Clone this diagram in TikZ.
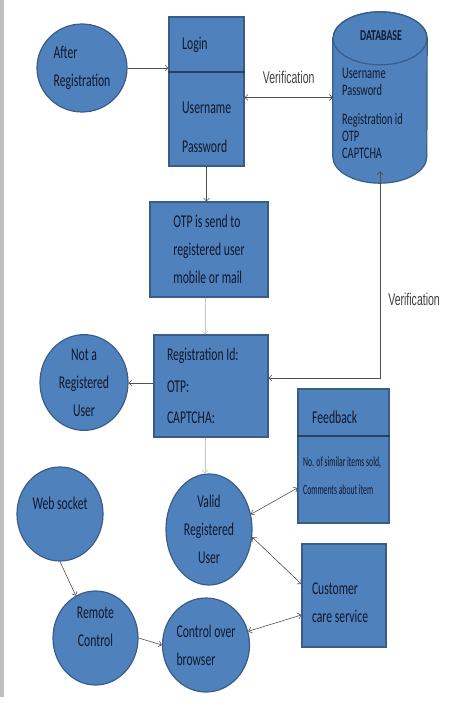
\documentclass[tikz,border=0pt]{standalone}
\usepackage{fontspec}
\setmainfont{Carlito}[FakeStretch=0.65]
\newfontfamily\narrowfnt{Carlito}[FakeStretch=0.55]
\newfontfamily\labelfnt{Liberation Sans}[FakeStretch=0.62]
\usetikzlibrary{arrows.meta, shapes.geometric}
\definecolor{boxblue}{RGB}{79,129,189}
\definecolor{edgeblue}{RGB}{56,93,138}
\definecolor{ink}{RGB}{18,24,44}
\definecolor{wire}{RGB}{80,80,80}
\definecolor{pale}{RGB}{200,200,200}

\begin{document}
\begin{tikzpicture}[x=1pt, y=-1pt, >={Straight Barb[length=3pt,width=6pt]},
		blob/.style={ellipse, draw=edgeblue, line width=1.2pt, fill=boxblue, text=ink, inner sep=0pt, align=center, font=\fontsize{18}{28}\selectfont},
		block/.style={rectangle, draw=edgeblue, line width=1.2pt, fill=boxblue, text=ink, font=\fontsize{18}{28}\selectfont},
		txt/.style={text=ink, inner sep=0pt, font=\fontsize{18}{22}\selectfont},
		vlabel/.style={text=black!75, inner sep=0pt, font=\labelfnt\fontsize{17}{20}\selectfont},
		wiring/.style={draw=wire, line width=0.6pt},
		faint/.style={draw=pale, line width=0.6pt}]
		\useasboundingbox (0,0) rectangle (468,703);
		\fill[black!25] (0,0) rectangle (3.5,697);

		% top row
		\node[blob, minimum width=90, minimum height=88, align=left] (after) at (82,68) {After\\Registration};
		\node[block, minimum width=75, minimum height=149] (login) at (206.5,91.5) {};
		\draw[edgeblue!70!black, line width=1.2pt] (login.west |- 0,72) -- (login.east |- 0,72);
		\node[txt, anchor=west] (logintitle) at (182,45) {Login};
		\node[txt, anchor=west] (loginuser) at (182,108) {Username};
		\node[txt, anchor=west] (loginpass) at (182,146) {Password};

		% database drum
		\node[minimum width=94, minimum height=171, inner sep=0pt] (db) at (380,97.5) {};
		\filldraw[fill=boxblue, draw=edgeblue, line width=1.2pt] ([yshift=-26.5]db.north west) -- ([yshift=26.5]db.south west)
			arc[start angle=180, end angle=0, x radius=47, y radius=26.5] -- ([yshift=-26.5]db.north east)
			arc[start angle=0, end angle=-180, x radius=47, y radius=26.5] -- cycle;
		\draw[edgeblue, line width=1.2pt] ([yshift=-26.5]db.north) ellipse[x radius=47, y radius=26.5];
		\node[txt, font=\bfseries\fontsize{15}{17}\selectfont] (dbtitle) at (381,36) {DATABASE};
		\node[txt, font=\fontsize{16}{17}\selectfont, align=left, anchor=north west] (dbfields) at (342,68) {Username\\Password\\[12pt]Registration id\\OTP\\CAPTCHA};

		% middle
		\node[block, minimum width=118, minimum height=95, align=left] (otp) at (209,249.5) {OTP is send to\\registered user\\mobile or mail};
		\node[block, minimum width=114, minimum height=102, text width=88, inner xsep=13, align=flush left] (reg) at (211,386) {Registration Id:\\[3.5pt]OTP:\\[3.5pt]CAPTCHA:};
		\node[blob, minimum width=88, minimum height=95] (notreg) at (84,382.5) {Not a\\Registered\\User};

		% bottom
		\node[block, minimum width=91, minimum height=134] (feedback) at (343.5,456) {};
		\draw[edgeblue!70!black, line width=1.2pt] (feedback.west |- 0,436) -- (feedback.east |- 0,436);
		\node[txt, anchor=west] (fbtitle) at (312,417) {Feedback};
		\node[txt, font=\narrowfnt\fontsize{14}{28}\selectfont, anchor=west, align=left] (fbitems) at (303,476) {No. of similar items sold,\\Comments about item};

		\node[blob, minimum width=86, minimum height=111] (valid) at (209,529.5) {Valid\\Registered\\User};
		\node[block, minimum width=84, minimum height=103, text width=64, inner xsep=10, text height=26, align=flush left] (care) at (344,595.5) {Customer\\care service};
		\node[blob, minimum width=86, minimum height=94, text depth=22] (web) at (60,514) {Web socket};
		\node[blob, minimum width=85, minimum height=94, text depth=23] (remote) at (95.5,638) {Remote\\Control};
		\node[blob, minimum width=87, minimum height=94, align=left] (browser) at (206,645) {Control over\\browser};

		% connectors
		\draw[wiring, ->] (after.east) -- (after.east -| login.west);
		\draw[wiring, <->] (login.east |- db.west) -- node[vlabel, yshift=20] (verif) {Verification} (db.west);
		\draw[wiring, ->] (login.south) -- (login.south |- otp.north);
		\draw[faint, ->] ([xshift=-4]otp.south) -- ([xshift=-4]otp.south |- reg.north);
		\draw[wiring, <->] ([yshift=12]db.south) |- node[vlabel, pos=0.31, right=8pt] (verifb) {Verification} ([yshift=8]reg.east);
		\draw[wiring, ->] ([yshift=3]reg.west) -- ([yshift=3]reg.west -| notreg.east);
		\draw[faint, ->] ([xshift=-6]reg.south) -- ([xshift=-6]reg.south |- valid.north);
		\draw[wiring, <->] (valid.20) -- ([yshift=-32]feedback.west);
		\draw[wiring, <->] (valid.-10) -- ([yshift=11.5]care.west);
		\draw[wiring, ->] (web.south) -- (remote.115);
		\draw[wiring, ->] (remote.east) -- (browser.west);
		\draw[wiring, <->] (browser.18) -- ([yshift=-19.5]care.west);
	\end{tikzpicture}
\end{document}
